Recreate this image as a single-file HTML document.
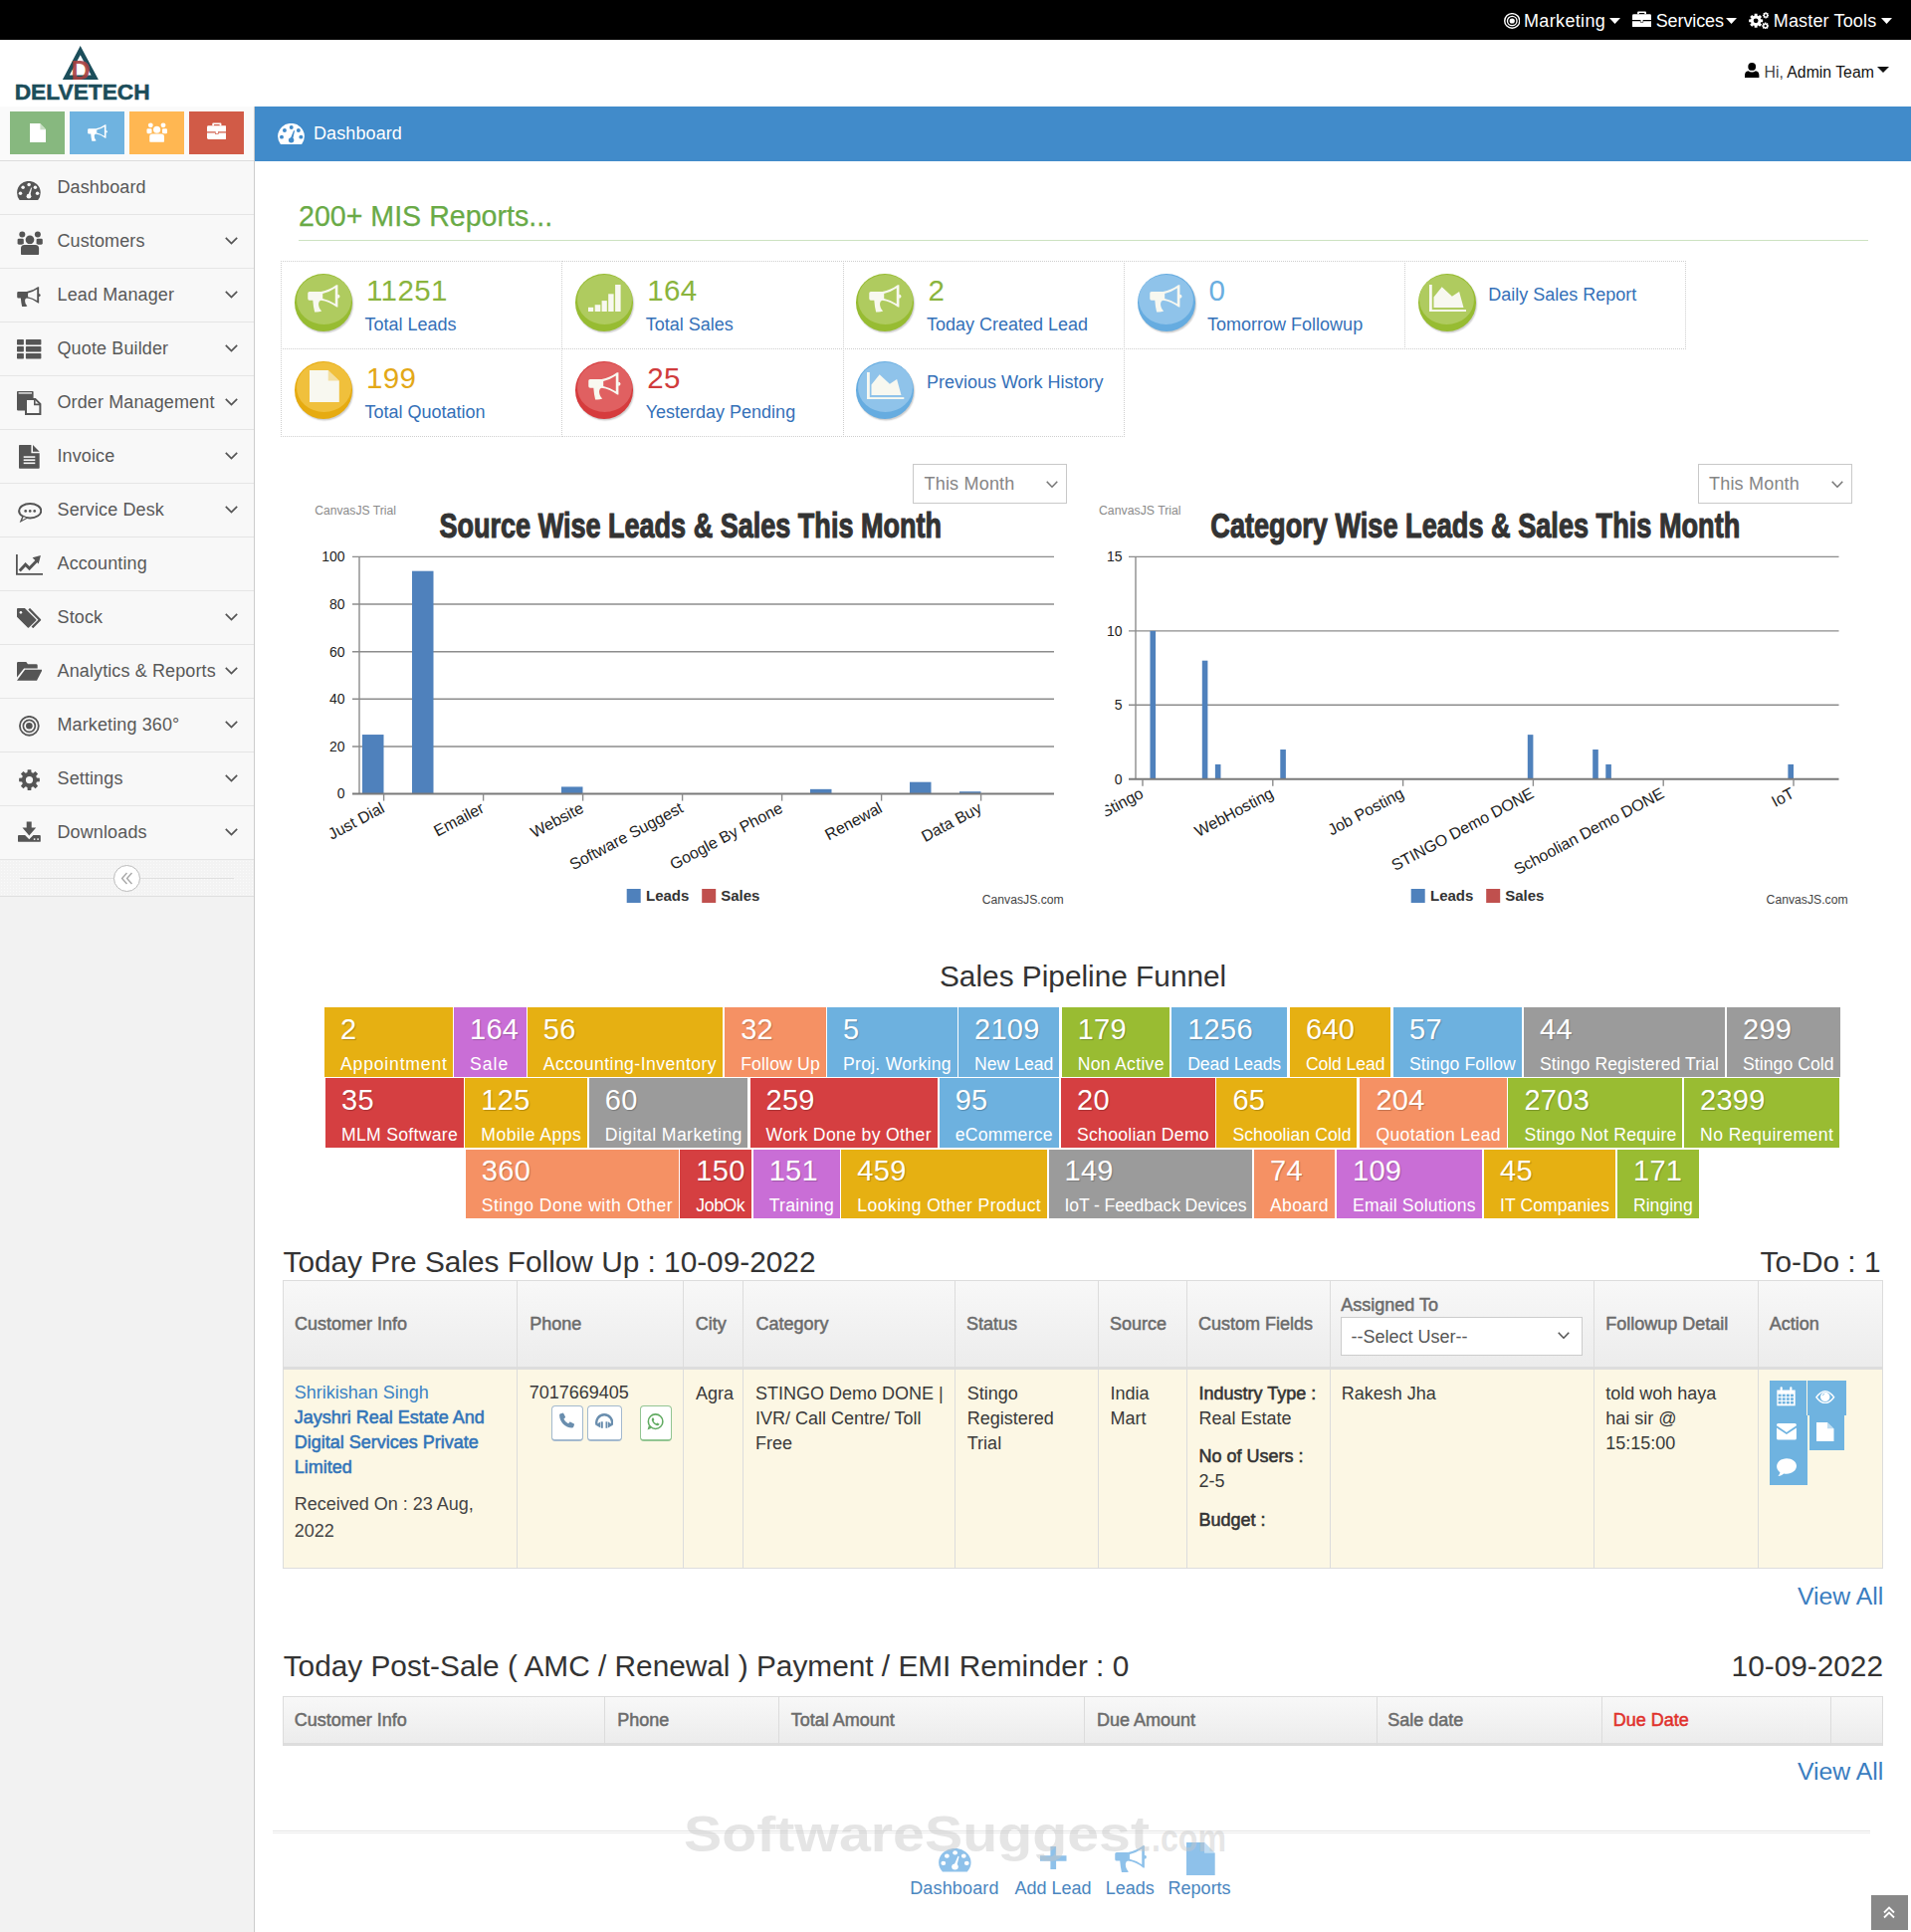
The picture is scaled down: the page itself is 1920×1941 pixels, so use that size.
<!DOCTYPE html><html><head><meta charset="utf-8"><title>Dashboard</title><style>
*{margin:0;padding:0;box-sizing:border-box}
html,body{width:1920px;height:1941px;overflow:hidden;background:#fff}
body{position:relative;font-family:"Liberation Sans",Arial,sans-serif;color:#333}
.t{position:absolute;line-height:1;white-space:nowrap}
.r{position:absolute;display:block}
.tile{position:absolute;height:69.6px;color:#fff;overflow:hidden}
.tile .n{position:absolute;left:16px;top:7.8px;font-size:29px;line-height:1;letter-spacing:0.3px;text-shadow:1px 1px 1px rgba(0,0,0,.22)}
.tile .l{position:absolute;left:16px;top:48.6px;font-size:17.6px;line-height:1;white-space:nowrap}
.sb{-webkit-text-stroke:0.45px currentColor}
</style></head><body><div class="r" style="left:0px;top:0px;width:1920px;height:40px;background:#000"></div>
<svg class="r" style="left:1510.50px;top:12.70px" width="16.50" height="15.90" viewBox="0 0 20.7 20.6" preserveAspectRatio="none" fill="#fff"><circle cx="10.35" cy="10.3" r="9.45" fill="none" stroke="#fff" stroke-width="1.8"/><circle cx="10.35" cy="10.3" r="6" fill="none" stroke="#fff" stroke-width="1.7"/><circle cx="10.35" cy="10.3" r="3.3"/></svg>
<div class="t" style="left:1531px;top:11.56px;font-size:18px;color:#fff;letter-spacing:0.35px">Marketing</div>
<svg class="r" style="left:1617px;top:17.6px" width="11" height="6" viewBox="0 0 11 6"><path d="M0 0H11L5.5 6z" fill="#fff"/></svg>
<svg class="r" style="left:1640.20px;top:10.80px" width="19.10" height="16.50" viewBox="0 0 19 17" preserveAspectRatio="none" fill="#fff"><path d="M6 0.4H13Q13.9 0.4 13.9 1.3V3.3H12.2V2H6.8V3.3H5.1V1.3Q5.1 0.4 6 0.4Z"/><path d="M0 4.7Q0 3.3 1.4 3.3H17.6Q19 3.3 19 4.7V9.2H0Z"/><path d="M0 10.5H7.9V11.9H11.1V10.5H19V15.6Q19 17 17.6 17H1.4Q0 17 0 15.6Z"/><rect x="8.4" y="8.7" width="2.2" height="2.6"/></svg>
<div class="t" style="left:1663.7px;top:11.56px;font-size:18px;color:#fff;letter-spacing:-0.1px">Services</div>
<svg class="r" style="left:1734px;top:17.6px" width="11" height="6" viewBox="0 0 11 6"><path d="M0 0H11L5.5 6z" fill="#fff"/></svg>
<svg class="r" style="left:1757.30px;top:11.70px" width="20.10" height="17.60" viewBox="0 0 20 17.6" preserveAspectRatio="none" fill="#fff"><path fill-rule="evenodd" d="M5.56 3.83 L5.69 1.84 L8.51 1.84 L8.64 3.83 L9.53 4.20 L11.02 2.88 L13.02 4.88 L11.70 6.37 L12.07 7.26 L14.06 7.39 L14.06 10.21 L12.07 10.34 L11.70 11.23 L13.02 12.72 L11.02 14.72 L9.53 13.40 L8.64 13.77 L8.51 15.76 L5.69 15.76 L5.56 13.77 L4.67 13.40 L3.18 14.72 L1.18 12.72 L2.50 11.23 L2.13 10.34 L0.14 10.21 L0.14 7.39 L2.13 7.26 L2.50 6.37 L1.18 4.88 L3.18 2.88 L4.67 4.20Z M9.5 8.8A2.4 2.4 0 1 0 4.7 8.8A2.4 2.4 0 1 0 9.5 8.8Z"/><path fill-rule="evenodd" d="M16.25 1.22 L16.30 0.28 L17.70 0.28 L17.75 1.22 L18.01 1.33 L18.71 0.70 L19.70 1.69 L19.07 2.39 L19.18 2.65 L20.12 2.70 L20.12 4.10 L19.18 4.15 L19.07 4.41 L19.70 5.11 L18.71 6.10 L18.01 5.47 L17.75 5.58 L17.70 6.52 L16.30 6.52 L16.25 5.58 L15.99 5.47 L15.29 6.10 L14.30 5.11 L14.93 4.41 L14.82 4.15 L13.88 4.10 L13.88 2.70 L14.82 2.65 L14.93 2.39 L14.30 1.69 L15.29 0.70 L15.99 1.33Z M18.1 3.4A1.1 1.1 0 1 0 15.9 3.4A1.1 1.1 0 1 0 18.1 3.4Z"/><path fill-rule="evenodd" d="M15.79 11.63 L15.84 10.58 L17.36 10.58 L17.41 11.63 L17.70 11.75 L18.48 11.04 L19.56 12.12 L18.85 12.90 L18.97 13.19 L20.02 13.24 L20.02 14.76 L18.97 14.81 L18.85 15.10 L19.56 15.88 L18.48 16.96 L17.70 16.25 L17.41 16.37 L17.36 17.42 L15.84 17.42 L15.79 16.37 L15.50 16.25 L14.72 16.96 L13.64 15.88 L14.35 15.10 L14.23 14.81 L13.18 14.76 L13.18 13.24 L14.23 13.19 L14.35 12.90 L13.64 12.12 L14.72 11.04 L15.50 11.75Z M17.8 14A1.2 1.2 0 1 0 15.4 14A1.2 1.2 0 1 0 17.8 14Z"/></svg>
<div class="t" style="left:1781.8px;top:11.56px;font-size:18px;color:#fff;letter-spacing:0.15px">Master Tools</div>
<svg class="r" style="left:1890px;top:17.6px" width="11" height="6" viewBox="0 0 11 6"><path d="M0 0H11L5.5 6z" fill="#fff"/></svg>
<svg class="r" style="left:1753.40px;top:63.00px" width="14.40" height="15.00" viewBox="0 0 14.4 15" preserveAspectRatio="none" fill="#000"><circle cx="7.2" cy="3.9" r="3.9"/><path d="M0 15V12.6Q0 8.7 3.5 8.2Q5.2 9.5 7.2 9.5Q9.2 9.5 10.9 8.2Q14.4 8.7 14.4 12.6V15Z"/></svg>
<div class="t" style="left:1772.5px;top:64.62px;font-size:15.8px;color:#111;"><span style="color:#444">Hi,</span> Admin Team</div>
<svg class="r" style="left:1886px;top:66.5px" width="12" height="6" viewBox="0 0 12 6"><path d="M0 0H12L6.0 6z" fill="#111"/></svg>
<svg class="r" style="left:0;top:40px" width="170" height="67" viewBox="0 40 170 67">
<path d="M80.7 46L62.9 80H98.9Z M80.7 55.2L69.8 75.6H91.6Z" fill="#1c4e5b" fill-rule="evenodd"/>
<text x="81" y="80" text-anchor="middle" font-family="Liberation Sans" font-weight="700" font-size="27" fill="#a8403f" fill-opacity="0.92">D</text>
<text x="14.7" y="99.9" font-family="Liberation Sans" font-weight="700" font-size="22.4" fill="#1b4d5a" stroke="#1b4d5a" stroke-width="0.5" textLength="136" lengthAdjust="spacingAndGlyphs">DELVETECH</text>
</svg>
<div class="r" style="left:0px;top:107px;width:255px;height:1834px;background:#f2f2f2"></div>
<div class="r" style="left:255px;top:107px;width:1px;height:1834px;background:#ccc"></div>
<div class="r" style="left:0px;top:107px;width:255px;height:54px;background:#fafafa"></div>
<div class="r" style="left:0px;top:161px;width:255px;height:1px;background:#ddd"></div>
<div class="r" style="left:10px;top:112px;width:55px;height:43px;background:#87b87f"></div>
<div class="r" style="left:70px;top:112px;width:55px;height:43px;background:#6fb3e0"></div>
<div class="r" style="left:130px;top:112px;width:55px;height:43px;background:#ffb752"></div>
<div class="r" style="left:190px;top:112px;width:55px;height:43px;background:#d15b47"></div>
<svg class="r" style="left:29.50px;top:123.70px" width="16.50" height="19.30" viewBox="0 0 17 19.5" preserveAspectRatio="none" fill="#fff"><path d="M0 0H10.7L17 6.3V19.5H0Z"/><path d="M10.7 0V6.3H17Z" fill="#87b87f" opacity="0.45"/></svg>
<svg class="r" style="left:87.80px;top:125.00px" width="20.40" height="17.00" viewBox="0 0 24 20.4" preserveAspectRatio="none" fill="#fff"><path d="M0.2 6.3Q0.2 5.1 1.4 5.1H10.1V11.5H9.6Q8.1 11.9 7.9 13.9Q7.9 17.4 10.2 19.5Q7.6 20.5 5.1 20.1Q4.1 15.9 3.8 11.5H1.4Q0.2 11.5 0.2 10.3Z"/><path fill-rule="evenodd" d="M9.7 5.1Q15.6 4.1 20.7 0.2H21.8V16.6H20.9Q15.6 12.2 9.7 11.5ZM10.9 6.6Q15.7 5.5 19.9 2.6V14.1Q15.7 11.3 10.9 10.2Z"/><path d="M21.6 7.1A1.7 1.5 0 0 1 21.6 10.1Z"/></svg>
<svg class="r" style="left:146.70px;top:123.30px" width="21.50" height="19.70" viewBox="0 0 26.4 24" preserveAspectRatio="none" fill="#fff"><circle cx="5.3" cy="3.5" r="3"/><circle cx="20.9" cy="3.5" r="3"/><rect x="0.6" y="7.7" width="6.2" height="6" rx="1.4"/><rect x="19.6" y="7.7" width="6.2" height="6" rx="1.4"/><circle cx="13" cy="8.8" r="5.2" fill="#ffb752"/><circle cx="13" cy="8.8" r="4.35"/><path d="M4 23.2V17.6Q4 14.1 7.5 14.1H18.6Q22.1 14.1 22.1 17.6V23.2Q22.1 24 21.2 24H4.9Q4 24 4 23.2Z" stroke="#ffb752" stroke-width="1.5" paint-order="stroke"/></svg>
<svg class="r" style="left:207.50px;top:123.30px" width="19.70" height="17.00" viewBox="0 0 19 17" preserveAspectRatio="none" fill="#fff"><path d="M6 0.4H13Q13.9 0.4 13.9 1.3V3.3H12.2V2H6.8V3.3H5.1V1.3Q5.1 0.4 6 0.4Z"/><path d="M0 4.7Q0 3.3 1.4 3.3H17.6Q19 3.3 19 4.7V9.2H0Z"/><path d="M0 10.5H7.9V11.9H11.1V10.5H19V15.6Q19 17 17.6 17H1.4Q0 17 0 15.6Z"/><rect x="8.4" y="8.7" width="2.2" height="2.6"/></svg>
<div class="r" style="left:0px;top:162px;width:255px;height:53px;background:#f8f8f8"></div>
<div class="r" style="left:0px;top:215px;width:255px;height:1px;background:#e5e5e5"></div>
<svg class="r" style="left:17.40px;top:181.60px" width="24.40" height="19.40" viewBox="0 0 24.4 19.4" preserveAspectRatio="none" fill="#555"><path d="M2.87 19.3A11.8 11.8 0 1 1 20.93 19.3Z"/><g fill="#f8f8f8"><circle cx="12.1" cy="3.6" r="1.75"/><circle cx="6.1" cy="6.3" r="1.75"/><circle cx="18.4" cy="6.3" r="1.75"/><circle cx="3.5" cy="12.3" r="1.75"/><circle cx="20.6" cy="12.3" r="1.75"/><circle cx="12" cy="15.2" r="2.4"/><path d="M10.9 14.7L14.2 6.4L15 6.7L13.2 15.2Z"/></g></svg>
<div class="t" style="left:57.5px;top:178.76px;font-size:18px;color:#585858;letter-spacing:0.12px">Dashboard</div>
<div class="r" style="left:0px;top:216px;width:255px;height:53px;background:#f8f8f8"></div>
<div class="r" style="left:0px;top:269px;width:255px;height:1px;background:#e5e5e5"></div>
<svg class="r" style="left:16.50px;top:232.00px" width="26.40" height="24.00" viewBox="0 0 26.4 24" preserveAspectRatio="none" fill="#555"><circle cx="5.3" cy="3.5" r="3"/><circle cx="20.9" cy="3.5" r="3"/><rect x="0.6" y="7.7" width="6.2" height="6" rx="1.4"/><rect x="19.6" y="7.7" width="6.2" height="6" rx="1.4"/><circle cx="13" cy="8.8" r="5.2" fill="#f8f8f8"/><circle cx="13" cy="8.8" r="4.35"/><path d="M4 23.2V17.6Q4 14.1 7.5 14.1H18.6Q22.1 14.1 22.1 17.6V23.2Q22.1 24 21.2 24H4.9Q4 24 4 23.2Z" stroke="#f8f8f8" stroke-width="1.5" paint-order="stroke"/></svg>
<div class="t" style="left:57.5px;top:232.76px;font-size:18px;color:#585858;letter-spacing:0.12px">Customers</div>
<svg class="r" style="left:226.00px;top:237.80px" width="13.00" height="8.00" viewBox="0 0 13 8" preserveAspectRatio="none" fill="#555"><path d="M0.8 0.8L6.5 6.6L12.2 0.8" fill="none" stroke="#555" stroke-width="1.7"/></svg>
<div class="r" style="left:0px;top:270px;width:255px;height:53px;background:#f8f8f8"></div>
<div class="r" style="left:0px;top:323px;width:255px;height:1px;background:#e5e5e5"></div>
<svg class="r" style="left:17.40px;top:287.80px" width="24.40" height="20.40" viewBox="0 0 24 20.4" preserveAspectRatio="none" fill="#555"><path d="M0.2 6.3Q0.2 5.1 1.4 5.1H10.1V11.5H9.6Q8.1 11.9 7.9 13.9Q7.9 17.4 10.2 19.5Q7.6 20.5 5.1 20.1Q4.1 15.9 3.8 11.5H1.4Q0.2 11.5 0.2 10.3Z"/><path fill-rule="evenodd" d="M9.7 5.1Q15.6 4.1 20.7 0.2H21.8V16.6H20.9Q15.6 12.2 9.7 11.5ZM10.9 6.6Q15.7 5.5 19.9 2.6V14.1Q15.7 11.3 10.9 10.2Z"/><path d="M21.6 7.1A1.7 1.5 0 0 1 21.6 10.1Z"/></svg>
<div class="t" style="left:57.5px;top:286.76px;font-size:18px;color:#585858;letter-spacing:0.12px">Lead Manager</div>
<svg class="r" style="left:226.00px;top:291.80px" width="13.00" height="8.00" viewBox="0 0 13 8" preserveAspectRatio="none" fill="#555"><path d="M0.8 0.8L6.5 6.6L12.2 0.8" fill="none" stroke="#555" stroke-width="1.7"/></svg>
<div class="r" style="left:0px;top:324px;width:255px;height:53px;background:#f8f8f8"></div>
<div class="r" style="left:0px;top:377px;width:255px;height:1px;background:#e5e5e5"></div>
<svg class="r" style="left:17.40px;top:341.30px" width="24.40" height="19.40" viewBox="0 0 24.4 19.4" preserveAspectRatio="none" fill="#555"><rect x="0" y="0" width="6.9" height="5.4" rx="0.7"/><rect x="8.9" y="0" width="15.5" height="5.4" rx="0.7"/><rect x="0" y="7" width="6.9" height="5.4" rx="0.7"/><rect x="8.9" y="7" width="15.5" height="5.4" rx="0.7"/><rect x="0" y="14" width="6.9" height="5.4" rx="0.7"/><rect x="8.9" y="14" width="15.5" height="5.4" rx="0.7"/></svg>
<div class="t" style="left:57.5px;top:340.76px;font-size:18px;color:#585858;letter-spacing:0.12px">Quote Builder</div>
<svg class="r" style="left:226.00px;top:345.80px" width="13.00" height="8.00" viewBox="0 0 13 8" preserveAspectRatio="none" fill="#555"><path d="M0.8 0.8L6.5 6.6L12.2 0.8" fill="none" stroke="#555" stroke-width="1.7"/></svg>
<div class="r" style="left:0px;top:378px;width:255px;height:53px;background:#f8f8f8"></div>
<div class="r" style="left:0px;top:431px;width:255px;height:1px;background:#e5e5e5"></div>
<svg class="r" style="left:17.40px;top:392.50px" width="24.40" height="24.00" viewBox="0 0 24.4 24" preserveAspectRatio="none" fill="#555"><rect x="0" y="0" width="16.6" height="19.4" rx="0.8"/><rect x="1.6" y="1.3" width="13.4" height="1.3" fill="#f8f8f8"/><path d="M9 7.9H18.4L23.4 12.9V23H9Z" fill="#f8f8f8" stroke="#555" stroke-width="2"/><path d="M17.8 7.6V13.4H23.6" fill="none" stroke="#555" stroke-width="1.6"/></svg>
<div class="t" style="left:57.5px;top:394.76px;font-size:18px;color:#585858;letter-spacing:0.12px">Order Management</div>
<svg class="r" style="left:226.00px;top:399.80px" width="13.00" height="8.00" viewBox="0 0 13 8" preserveAspectRatio="none" fill="#555"><path d="M0.8 0.8L6.5 6.6L12.2 0.8" fill="none" stroke="#555" stroke-width="1.7"/></svg>
<div class="r" style="left:0px;top:432px;width:255px;height:53px;background:#f8f8f8"></div>
<div class="r" style="left:0px;top:485px;width:255px;height:1px;background:#e5e5e5"></div>
<svg class="r" style="left:19.30px;top:447.40px" width="20.70" height="23.70" viewBox="0 0 20.7 23.7" preserveAspectRatio="none" fill="#555"><path d="M0 0.8Q0 0 0.8 0H12.4V8.3H20.7V22.9Q20.7 23.7 19.9 23.7H0.8Q0 23.7 0 22.9Z"/><path d="M14 0L20.7 6.7H14Z"/><g fill="#f8f8f8"><rect x="4.7" y="11.3" width="11.6" height="1.6"/><rect x="4.7" y="14.4" width="11.6" height="1.6"/><rect x="4.7" y="17.5" width="11.6" height="1.6"/></g></svg>
<div class="t" style="left:57.5px;top:448.76px;font-size:18px;color:#585858;letter-spacing:0.12px">Invoice</div>
<svg class="r" style="left:226.00px;top:453.80px" width="13.00" height="8.00" viewBox="0 0 13 8" preserveAspectRatio="none" fill="#555"><path d="M0.8 0.8L6.5 6.6L12.2 0.8" fill="none" stroke="#555" stroke-width="1.7"/></svg>
<div class="r" style="left:0px;top:486px;width:255px;height:53px;background:#f8f8f8"></div>
<div class="r" style="left:0px;top:539px;width:255px;height:1px;background:#e5e5e5"></div>
<svg class="r" style="left:17.50px;top:504.80px" width="24.30" height="20.20" viewBox="0 0 24.3 20.2" preserveAspectRatio="none" fill="#555"><ellipse cx="12.2" cy="8.2" rx="11.1" ry="7.2" fill="none" stroke="#555" stroke-width="2"/><path d="M4.3 13.6L1.6 20.2L10 15.6Z"/><path d="M5.6 14.2L4.3 17.4L8.2 15.3Z" fill="#f8f8f8"/><circle cx="7.7" cy="8.4" r="1.35"/><circle cx="12.2" cy="8.4" r="1.35"/><circle cx="16.7" cy="8.4" r="1.35"/></svg>
<div class="t" style="left:57.5px;top:502.76px;font-size:18px;color:#585858;letter-spacing:0.12px">Service Desk</div>
<svg class="r" style="left:226.00px;top:507.80px" width="13.00" height="8.00" viewBox="0 0 13 8" preserveAspectRatio="none" fill="#555"><path d="M0.8 0.8L6.5 6.6L12.2 0.8" fill="none" stroke="#555" stroke-width="1.7"/></svg>
<div class="r" style="left:0px;top:540px;width:255px;height:53px;background:#f8f8f8"></div>
<div class="r" style="left:0px;top:593px;width:255px;height:1px;background:#e5e5e5"></div>
<svg class="r" style="left:15.90px;top:557.00px" width="27.50" height="20.80" viewBox="0 0 27.5 20.8" preserveAspectRatio="none" fill="#555"><path d="M0.9 0V19.9H27.5" fill="none" stroke="#555" stroke-width="1.8"/><path d="M3.7 16.4L9.6 10.2L13.5 14.1L20.8 6.6" fill="none" stroke="#555" stroke-width="2.9"/><path d="M16.6 3.3L24.9 1.1L22.7 9.4Z"/></svg>
<div class="t" style="left:57.5px;top:556.76px;font-size:18px;color:#585858;letter-spacing:0.12px">Accounting</div>
<div class="r" style="left:0px;top:594px;width:255px;height:53px;background:#f8f8f8"></div>
<div class="r" style="left:0px;top:647px;width:255px;height:1px;background:#e5e5e5"></div>
<svg class="r" style="left:17.30px;top:611.10px" width="24.50" height="20.00" viewBox="0 0 24.5 20.2" preserveAspectRatio="none" fill="#555"><path d="M0 0.9Q0 0 0.9 0H7.9L19.2 11.4Q19.8 12 19.2 12.6L12 19.7Q11.4 20.3 10.8 19.7L0 8.8Z"/><circle cx="3.9" cy="4.4" r="1.3" fill="#f8f8f8"/><path d="M12.2 0.7L23 11.9L15.4 19.6" fill="none" stroke="#555" stroke-width="2.3" stroke-linejoin="round"/></svg>
<div class="t" style="left:57.5px;top:610.76px;font-size:18px;color:#585858;letter-spacing:0.12px">Stock</div>
<svg class="r" style="left:226.00px;top:615.80px" width="13.00" height="8.00" viewBox="0 0 13 8" preserveAspectRatio="none" fill="#555"><path d="M0.8 0.8L6.5 6.6L12.2 0.8" fill="none" stroke="#555" stroke-width="1.7"/></svg>
<div class="r" style="left:0px;top:648px;width:255px;height:53px;background:#f8f8f8"></div>
<div class="r" style="left:0px;top:701px;width:255px;height:1px;background:#e5e5e5"></div>
<svg class="r" style="left:16.50px;top:665.20px" width="25.60" height="18.70" viewBox="0 0 25.6 18.7" preserveAspectRatio="none" fill="#555"><path d="M0 1.2Q0 0 1.2 0H9.3L11 2.3H19.4Q20.7 2.3 20.7 3.6V6.4H7.1L0 15.6Z"/><path d="M8.1 7.8H25.6L20 18.7H0Z"/></svg>
<div class="t" style="left:57.5px;top:664.76px;font-size:18px;color:#585858;letter-spacing:0.12px">Analytics &amp; Reports</div>
<svg class="r" style="left:226.00px;top:669.80px" width="13.00" height="8.00" viewBox="0 0 13 8" preserveAspectRatio="none" fill="#555"><path d="M0.8 0.8L6.5 6.6L12.2 0.8" fill="none" stroke="#555" stroke-width="1.7"/></svg>
<div class="r" style="left:0px;top:702px;width:255px;height:53px;background:#f8f8f8"></div>
<div class="r" style="left:0px;top:755px;width:255px;height:1px;background:#e5e5e5"></div>
<svg class="r" style="left:19.10px;top:719.00px" width="20.70" height="20.60" viewBox="0 0 20.7 20.6" preserveAspectRatio="none" fill="#555"><circle cx="10.35" cy="10.3" r="9.45" fill="none" stroke="#555" stroke-width="1.8"/><circle cx="10.35" cy="10.3" r="6" fill="none" stroke="#555" stroke-width="1.7"/><circle cx="10.35" cy="10.3" r="3.3"/></svg>
<div class="t" style="left:57.5px;top:718.76px;font-size:18px;color:#585858;letter-spacing:0.12px">Marketing 360°</div>
<svg class="r" style="left:226.00px;top:723.80px" width="13.00" height="8.00" viewBox="0 0 13 8" preserveAspectRatio="none" fill="#555"><path d="M0.8 0.8L6.5 6.6L12.2 0.8" fill="none" stroke="#555" stroke-width="1.7"/></svg>
<div class="r" style="left:0px;top:756px;width:255px;height:53px;background:#f8f8f8"></div>
<div class="r" style="left:0px;top:809px;width:255px;height:1px;background:#e5e5e5"></div>
<svg class="r" style="left:19.00px;top:772.90px" width="21.00" height="21.10" viewBox="0 0 21 21" preserveAspectRatio="none" fill="#555"><path fill-rule="evenodd" d="M8.45 3.08 L8.72 0.15 L12.28 0.15 L12.55 3.08 L14.30 3.80 L16.56 1.93 L19.07 4.44 L17.20 6.70 L17.92 8.45 L20.85 8.72 L20.85 12.28 L17.92 12.55 L17.20 14.30 L19.07 16.56 L16.56 19.07 L14.30 17.20 L12.55 17.92 L12.28 20.85 L8.72 20.85 L8.45 17.92 L6.70 17.20 L4.44 19.07 L1.93 16.56 L3.80 14.30 L3.08 12.55 L0.15 12.28 L0.15 8.72 L3.08 8.45 L3.80 6.70 L1.93 4.44 L4.44 1.93 L6.70 3.80Z M14.1 10.5A3.6 3.6 0 1 0 6.9 10.5A3.6 3.6 0 1 0 14.1 10.5Z"/></svg>
<div class="t" style="left:57.5px;top:772.76px;font-size:18px;color:#585858;letter-spacing:0.12px">Settings</div>
<svg class="r" style="left:226.00px;top:777.80px" width="13.00" height="8.00" viewBox="0 0 13 8" preserveAspectRatio="none" fill="#555"><path d="M0.8 0.8L6.5 6.6L12.2 0.8" fill="none" stroke="#555" stroke-width="1.7"/></svg>
<div class="r" style="left:0px;top:810px;width:255px;height:53px;background:#f8f8f8"></div>
<div class="r" style="left:0px;top:863px;width:255px;height:1px;background:#e5e5e5"></div>
<svg class="r" style="left:18.30px;top:825.00px" width="22.80" height="20.80" viewBox="0 0 22.8 20.8" preserveAspectRatio="none" fill="#555"><path d="M8.7 0.4H13.7V6.6H18.2L11.3 14.6L4.5 6.6H8.7Z"/><path d="M0 15Q0 14.1 0.9 14.1H7.1L11.3 18.2L15.5 14.1H21.9Q22.8 14.1 22.8 15V19.9Q22.8 20.8 21.9 20.8H0.9Q0 20.8 0 19.9Z"/><circle cx="16.6" cy="18.1" r="0.95" fill="#f8f8f8"/><circle cx="20.1" cy="18.1" r="0.95" fill="#f8f8f8"/></svg>
<div class="t" style="left:57.5px;top:826.76px;font-size:18px;color:#585858;letter-spacing:0.12px">Downloads</div>
<svg class="r" style="left:226.00px;top:831.80px" width="13.00" height="8.00" viewBox="0 0 13 8" preserveAspectRatio="none" fill="#555"><path d="M0.8 0.8L6.5 6.6L12.2 0.8" fill="none" stroke="#555" stroke-width="1.7"/></svg>
<div class="r" style="left:0px;top:864px;width:255px;height:36px;background:#f3f3f3;background-image:radial-gradient(#fafafa 0.8px,transparent 1px);background-size:3px 3px"></div>
<div class="r" style="left:0px;top:900px;width:255px;height:1px;background:#e0e0e0"></div>
<div class="r" style="left:20px;top:882px;width:215px;height:1px;background:#e0e0e0"></div>
<div class="r" style="left:114px;top:869px;width:27px;height:27px;border-radius:50%;background:#fff;border:1px solid #bbb"></div>
<svg class="r" style="left:120px;top:875px" width="16" height="15" viewBox="0 0 16 15"><path d="M7.5 2L2.6 7.5L7.5 13M12.5 2L7.6 7.5L12.5 13" fill="none" stroke="#a9a9a9" stroke-width="1.4"/></svg>
<div class="r" style="left:256px;top:107px;width:1664px;height:55px;background:#418bca"></div>
<svg class="r" style="left:279.30px;top:123.50px" width="27.70" height="21.50" viewBox="0 0 24.4 19.4" preserveAspectRatio="none" fill="#fff"><path d="M2.87 19.3A11.8 11.8 0 1 1 20.93 19.3Z"/><g fill="#418bca"><circle cx="12.1" cy="3.6" r="1.75"/><circle cx="6.1" cy="6.3" r="1.75"/><circle cx="18.4" cy="6.3" r="1.75"/><circle cx="3.5" cy="12.3" r="1.75"/><circle cx="20.6" cy="12.3" r="1.75"/><circle cx="12" cy="15.2" r="2.4"/><path d="M10.9 14.7L14.2 6.4L15 6.7L13.2 15.2Z"/></g></svg>
<div class="t" style="left:315px;top:124.56px;font-size:18px;color:#fff;letter-spacing:0.1px">Dashboard</div>
<div class="t" style="left:300px;top:203.48px;font-size:28.6px;color:#69aa46;-webkit-text-stroke:0.25px #69aa46">200+ MIS Reports...</div>
<div class="r" style="left:300px;top:241px;width:1577px;height:1px;background:#cce2c1"></div>
<div class="r" style="left:282.2px;top:261.9px;width:283.2px;height:89px;border:1px dotted #cfcfcf"></div>
<div class="r" style="left:296.0px;top:275.0px;width:58px;height:57.5px;border-radius:50%;background:#97bc32;box-shadow:1px 1.5px 1.5px rgba(0,0,0,.2)"></div>
<div class="r" style="left:297.5px;top:275.9px;width:55px;height:49.8px;border-radius:50%;background:#afcb5f"></div>
<svg class="r" style="left:308.50px;top:286.00px" width="33.50" height="27.80" viewBox="0 0 24 20.4" preserveAspectRatio="none" fill="#f8f8f0"><path d="M0.2 6.3Q0.2 5.1 1.4 5.1H10.1V11.5H9.6Q8.1 11.9 7.9 13.9Q7.9 17.4 10.2 19.5Q7.6 20.5 5.1 20.1Q4.1 15.9 3.8 11.5H1.4Q0.2 11.5 0.2 10.3Z"/><path fill-rule="evenodd" d="M9.7 5.1Q15.6 4.1 20.7 0.2H21.8V16.6H20.9Q15.6 12.2 9.7 11.5ZM10.9 6.6Q15.7 5.5 19.9 2.6V14.1Q15.7 11.3 10.9 10.2Z"/><path d="M21.6 7.1A1.7 1.5 0 0 1 21.6 10.1Z"/></svg>
<div class="t" style="left:368.0px;top:277.22px;font-size:29.5px;color:#8ab43e;letter-spacing:0.4px">11251</div>
<div class="t" style="left:366.5px;top:316.56px;font-size:18px;color:#3470b8;">Total Leads</div>
<div class="r" style="left:564.4px;top:261.9px;width:283.2px;height:89px;border:1px dotted #cfcfcf"></div>
<div class="r" style="left:578.2px;top:275.0px;width:58px;height:57.5px;border-radius:50%;background:#97bc32;box-shadow:1px 1.5px 1.5px rgba(0,0,0,.2)"></div>
<div class="r" style="left:579.7px;top:275.9px;width:55px;height:49.8px;border-radius:50%;background:#afcb5f"></div>
<svg class="r" style="left:591.30px;top:285.90px" width="32.60" height="27.30" viewBox="0 0 32.6 27.3" preserveAspectRatio="none" fill="#f8f8f0"><rect x="0" y="22.8" width="5.2" height="4.5"/><rect x="6.7" y="20.2" width="5.6" height="7.1"/><rect x="13.6" y="16.1" width="5.2" height="11.2"/><rect x="20.2" y="9.3" width="5.4" height="18"/><rect x="27.1" y="0" width="5.5" height="27.3"/></svg>
<div class="t" style="left:650.2px;top:277.22px;font-size:29.5px;color:#8ab43e;letter-spacing:0.4px">164</div>
<div class="t" style="left:648.7px;top:316.56px;font-size:18px;color:#3470b8;">Total Sales</div>
<div class="r" style="left:846.6px;top:261.9px;width:283.2px;height:89px;border:1px dotted #cfcfcf"></div>
<div class="r" style="left:860.4px;top:275.0px;width:58px;height:57.5px;border-radius:50%;background:#97bc32;box-shadow:1px 1.5px 1.5px rgba(0,0,0,.2)"></div>
<div class="r" style="left:861.9px;top:275.9px;width:55px;height:49.8px;border-radius:50%;background:#afcb5f"></div>
<svg class="r" style="left:872.90px;top:286.00px" width="33.50" height="27.80" viewBox="0 0 24 20.4" preserveAspectRatio="none" fill="#f8f8f0"><path d="M0.2 6.3Q0.2 5.1 1.4 5.1H10.1V11.5H9.6Q8.1 11.9 7.9 13.9Q7.9 17.4 10.2 19.5Q7.6 20.5 5.1 20.1Q4.1 15.9 3.8 11.5H1.4Q0.2 11.5 0.2 10.3Z"/><path fill-rule="evenodd" d="M9.7 5.1Q15.6 4.1 20.7 0.2H21.8V16.6H20.9Q15.6 12.2 9.7 11.5ZM10.9 6.6Q15.7 5.5 19.9 2.6V14.1Q15.7 11.3 10.9 10.2Z"/><path d="M21.6 7.1A1.7 1.5 0 0 1 21.6 10.1Z"/></svg>
<div class="t" style="left:932.4px;top:277.22px;font-size:29.5px;color:#8ab43e;letter-spacing:0.4px">2</div>
<div class="t" style="left:930.9px;top:316.56px;font-size:18px;color:#3470b8;">Today Created Lead</div>
<div class="r" style="left:1128.8px;top:261.9px;width:283.2px;height:89px;border:1px dotted #cfcfcf"></div>
<div class="r" style="left:1142.6px;top:275.0px;width:58px;height:57.5px;border-radius:50%;background:#66ace0;box-shadow:1px 1.5px 1.5px rgba(0,0,0,.2)"></div>
<div class="r" style="left:1144.1px;top:275.9px;width:55px;height:49.8px;border-radius:50%;background:#8fc3ea"></div>
<svg class="r" style="left:1155.10px;top:286.00px" width="33.50" height="27.80" viewBox="0 0 24 20.4" preserveAspectRatio="none" fill="#f8f8f0"><path d="M0.2 6.3Q0.2 5.1 1.4 5.1H10.1V11.5H9.6Q8.1 11.9 7.9 13.9Q7.9 17.4 10.2 19.5Q7.6 20.5 5.1 20.1Q4.1 15.9 3.8 11.5H1.4Q0.2 11.5 0.2 10.3Z"/><path fill-rule="evenodd" d="M9.7 5.1Q15.6 4.1 20.7 0.2H21.8V16.6H20.9Q15.6 12.2 9.7 11.5ZM10.9 6.6Q15.7 5.5 19.9 2.6V14.1Q15.7 11.3 10.9 10.2Z"/><path d="M21.6 7.1A1.7 1.5 0 0 1 21.6 10.1Z"/></svg>
<div class="t" style="left:1214.6px;top:277.22px;font-size:29.5px;color:#6aaee0;letter-spacing:0.4px">0</div>
<div class="t" style="left:1213.1px;top:316.56px;font-size:18px;color:#3470b8;">Tomorrow Followup</div>
<div class="r" style="left:1411.0px;top:261.9px;width:283.2px;height:89px;border:1px dotted #cfcfcf"></div>
<div class="r" style="left:1424.8px;top:275.0px;width:58px;height:57.5px;border-radius:50%;background:#97bc32;box-shadow:1px 1.5px 1.5px rgba(0,0,0,.2)"></div>
<div class="r" style="left:1426.3px;top:275.9px;width:55px;height:49.8px;border-radius:50%;background:#afcb5f"></div>
<svg class="r" style="left:1435.70px;top:285.80px" width="37.30" height="27.50" viewBox="0 0 37.3 27.5" preserveAspectRatio="none" fill="#f8f8f0"><rect x="0" y="0" width="2.8" height="27.5"/><rect x="0" y="25.1" width="37.3" height="2.4"/><path d="M4.5 12.5L12.7 2.2L22.9 11.8L30.1 7L34.5 23.1H4.5Z"/></svg>
<div class="t" style="left:1495.3px;top:286.56px;font-size:18px;color:#3470b8;">Daily Sales Report</div>
<div class="r" style="left:282.2px;top:349.9px;width:283.2px;height:89px;border:1px dotted #cfcfcf"></div>
<div class="r" style="left:296.0px;top:363.0px;width:58px;height:57.5px;border-radius:50%;background:#e6ab10;box-shadow:1px 1.5px 1.5px rgba(0,0,0,.2)"></div>
<div class="r" style="left:297.5px;top:363.9px;width:55px;height:49.8px;border-radius:50%;background:#f0c03c"></div>
<svg class="r" style="left:310.80px;top:371.50px" width="29.80" height="32.40" viewBox="0 0 17 19.5" preserveAspectRatio="none" fill="#f8f8f0"><path d="M0 0H10.7L17 6.3V19.5H0Z"/><path d="M10.7 0V6.3H17Z" fill="#f0c03c" opacity="0.45"/></svg>
<div class="t" style="left:368.0px;top:365.22px;font-size:29.5px;color:#e3a817;letter-spacing:0.4px">199</div>
<div class="t" style="left:366.5px;top:404.56px;font-size:18px;color:#3470b8;">Total Quotation</div>
<div class="r" style="left:564.4px;top:349.9px;width:283.2px;height:89px;border:1px dotted #cfcfcf"></div>
<div class="r" style="left:578.2px;top:363.0px;width:58px;height:57.5px;border-radius:50%;background:#d63b3d;box-shadow:1px 1.5px 1.5px rgba(0,0,0,.2)"></div>
<div class="r" style="left:579.7px;top:363.9px;width:55px;height:49.8px;border-radius:50%;background:#e06061"></div>
<svg class="r" style="left:590.70px;top:374.00px" width="33.50" height="27.80" viewBox="0 0 24 20.4" preserveAspectRatio="none" fill="#f8f8f0"><path d="M0.2 6.3Q0.2 5.1 1.4 5.1H10.1V11.5H9.6Q8.1 11.9 7.9 13.9Q7.9 17.4 10.2 19.5Q7.6 20.5 5.1 20.1Q4.1 15.9 3.8 11.5H1.4Q0.2 11.5 0.2 10.3Z"/><path fill-rule="evenodd" d="M9.7 5.1Q15.6 4.1 20.7 0.2H21.8V16.6H20.9Q15.6 12.2 9.7 11.5ZM10.9 6.6Q15.7 5.5 19.9 2.6V14.1Q15.7 11.3 10.9 10.2Z"/><path d="M21.6 7.1A1.7 1.5 0 0 1 21.6 10.1Z"/></svg>
<div class="t" style="left:650.2px;top:365.22px;font-size:29.5px;color:#d03b3c;letter-spacing:0.4px">25</div>
<div class="t" style="left:648.7px;top:404.56px;font-size:18px;color:#3470b8;">Yesterday Pending</div>
<div class="r" style="left:846.6px;top:349.9px;width:283.2px;height:89px;border:1px dotted #cfcfcf"></div>
<div class="r" style="left:860.4px;top:363.0px;width:58px;height:57.5px;border-radius:50%;background:#66ace0;box-shadow:1px 1.5px 1.5px rgba(0,0,0,.2)"></div>
<div class="r" style="left:861.9px;top:363.9px;width:55px;height:49.8px;border-radius:50%;background:#8fc3ea"></div>
<svg class="r" style="left:871.30px;top:373.80px" width="37.30" height="27.50" viewBox="0 0 37.3 27.5" preserveAspectRatio="none" fill="#f8f8f0"><rect x="0" y="0" width="2.8" height="27.5"/><rect x="0" y="25.1" width="37.3" height="2.4"/><path d="M4.5 12.5L12.7 2.2L22.9 11.8L30.1 7L34.5 23.1H4.5Z"/></svg>
<div class="t" style="left:930.9px;top:374.56px;font-size:18px;color:#3470b8;">Previous Work History</div>
<svg class="r" style="left:300px;top:455px" width="785" height="470" viewBox="300 455 785 470"><defs><clipPath id="cp300"><rect x="300" y="455" width="785" height="470"/></clipPath></defs><text x="316.3" y="517" font-family="Liberation Sans" font-size="12" fill="#8a8a8a" textLength="81.6" lengthAdjust="spacingAndGlyphs">CanvasJS Trial</text><text x="441.5" y="539.9" font-family="Liberation Sans" font-weight="700" font-size="34.5" fill="#333" stroke="#333" stroke-width="1.1" textLength="504.5" lengthAdjust="spacingAndGlyphs">Source Wise Leads &amp; Sales This Month</text><line x1="354" y1="559.4" x2="1059" y2="559.4" stroke="#8c8c8c" stroke-width="1.4"/><line x1="354" y1="607.0" x2="1059" y2="607.0" stroke="#8c8c8c" stroke-width="1.4"/><line x1="354" y1="654.7" x2="1059" y2="654.7" stroke="#8c8c8c" stroke-width="1.4"/><line x1="354" y1="702.3" x2="1059" y2="702.3" stroke="#8c8c8c" stroke-width="1.4"/><line x1="354" y1="750.0" x2="1059" y2="750.0" stroke="#8c8c8c" stroke-width="1.4"/><text x="346.5" y="564.1999999999999" text-anchor="end" font-family="Liberation Sans" font-size="14" fill="#222">100</text><text x="346.5" y="611.8" text-anchor="end" font-family="Liberation Sans" font-size="14" fill="#222">80</text><text x="346.5" y="659.5" text-anchor="end" font-family="Liberation Sans" font-size="14" fill="#222">60</text><text x="346.5" y="707.0999999999999" text-anchor="end" font-family="Liberation Sans" font-size="14" fill="#222">40</text><text x="346.5" y="754.8" text-anchor="end" font-family="Liberation Sans" font-size="14" fill="#222">20</text><text x="346.5" y="802.4" text-anchor="end" font-family="Liberation Sans" font-size="14" fill="#222">0</text><rect x="364.00" y="738.05" width="21.5" height="59.55" fill="#4f81bc"/><rect x="414.00" y="573.69" width="21.5" height="223.91" fill="#4f81bc"/><rect x="564.00" y="790.45" width="21.5" height="7.15" fill="#4f81bc"/><rect x="814.00" y="792.84" width="21.5" height="4.76" fill="#4f81bc"/><rect x="914.00" y="785.69" width="21.5" height="11.91" fill="#4f81bc"/><rect x="964.00" y="795.22" width="21.5" height="2.38" fill="#4f81bc"/><line x1="361" y1="559.4" x2="361" y2="797.6" stroke="#8c8c8c" stroke-width="1.4"/><line x1="354" y1="797.6" x2="1059" y2="797.6" stroke="#7a7a7a" stroke-width="2"/><line x1="385.6" y1="797.6" x2="385.6" y2="804.6" stroke="#8c8c8c" stroke-width="1.4"/><line x1="485.6" y1="797.6" x2="485.6" y2="804.6" stroke="#8c8c8c" stroke-width="1.4"/><line x1="585.6" y1="797.6" x2="585.6" y2="804.6" stroke="#8c8c8c" stroke-width="1.4"/><line x1="685.6" y1="797.6" x2="685.6" y2="804.6" stroke="#8c8c8c" stroke-width="1.4"/><line x1="785.6" y1="797.6" x2="785.6" y2="804.6" stroke="#8c8c8c" stroke-width="1.4"/><line x1="885.6" y1="797.6" x2="885.6" y2="804.6" stroke="#8c8c8c" stroke-width="1.4"/><line x1="985.6" y1="797.6" x2="985.6" y2="804.6" stroke="#8c8c8c" stroke-width="1.4"/><g clip-path="url(#cp300)"><text transform="translate(382.1,805.1) rotate(-28)" x="0" y="0" dy="11.5" text-anchor="end" font-family="Liberation Sans" font-size="16" fill="#222">Just Dial</text><text transform="translate(482.1,805.1) rotate(-28)" x="0" y="0" dy="11.5" text-anchor="end" font-family="Liberation Sans" font-size="16" fill="#222">Emailer</text><text transform="translate(582.1,805.1) rotate(-28)" x="0" y="0" dy="11.5" text-anchor="end" font-family="Liberation Sans" font-size="16" fill="#222">Website</text><text transform="translate(682.1,805.1) rotate(-28)" x="0" y="0" dy="11.5" text-anchor="end" font-family="Liberation Sans" font-size="16" fill="#222">Software Suggest</text><text transform="translate(782.1,805.1) rotate(-28)" x="0" y="0" dy="11.5" text-anchor="end" font-family="Liberation Sans" font-size="16" fill="#222">Google By Phone</text><text transform="translate(882.1,805.1) rotate(-28)" x="0" y="0" dy="11.5" text-anchor="end" font-family="Liberation Sans" font-size="16" fill="#222">Renewal</text><text transform="translate(982.1,805.1) rotate(-28)" x="0" y="0" dy="11.5" text-anchor="end" font-family="Liberation Sans" font-size="16" fill="#222">Data Buy</text></g><rect x="629.7" y="893" width="14" height="14" fill="#4f81bc"/><text x="649.0" y="904.6" font-family="Liberation Sans" font-weight="700" font-size="15" fill="#333">Leads</text><rect x="705.2" y="893" width="14" height="14" fill="#c0504e"/><text x="724.2" y="904.6" font-family="Liberation Sans" font-weight="700" font-size="15" fill="#333">Sales</text><text x="986.7" y="908" font-family="Liberation Sans" font-size="12" fill="#444" textLength="82" lengthAdjust="spacingAndGlyphs">CanvasJS.com</text></svg>
<div class="r" style="left:917px;top:466px;width:155px;height:40px;border:1px solid #c9c9c9;background:#fff"></div>
<div class="t" style="left:928.5px;top:477.46px;font-size:18px;color:#858585;letter-spacing:0.2px">This Month</div>
<svg class="r" style="left:1051.00px;top:483.00px" width="12.00" height="7.50" viewBox="0 0 13 8" preserveAspectRatio="none" fill="#777"><path d="M0.8 0.8L6.5 6.6L12.2 0.8" fill="none" stroke="#777" stroke-width="1.7"/></svg>
<svg class="r" style="left:1090px;top:455px" width="790" height="470" viewBox="1090 455 790 470"><defs><clipPath id="cp1090"><rect x="1110.5" y="455" width="769.5" height="470"/></clipPath></defs><text x="1104" y="517" font-family="Liberation Sans" font-size="12" fill="#8a8a8a" textLength="82.6" lengthAdjust="spacingAndGlyphs">CanvasJS Trial</text><text x="1216.3" y="539.9" font-family="Liberation Sans" font-weight="700" font-size="34.5" fill="#333" stroke="#333" stroke-width="1.1" textLength="532.0" lengthAdjust="spacingAndGlyphs">Category Wise Leads &amp; Sales This Month</text><line x1="1134" y1="559.4" x2="1847.5" y2="559.4" stroke="#8c8c8c" stroke-width="1.4"/><line x1="1134" y1="633.9" x2="1847.5" y2="633.9" stroke="#8c8c8c" stroke-width="1.4"/><line x1="1134" y1="708.3" x2="1847.5" y2="708.3" stroke="#8c8c8c" stroke-width="1.4"/><text x="1127.5" y="564.1999999999999" text-anchor="end" font-family="Liberation Sans" font-size="14" fill="#222">15</text><text x="1127.5" y="638.6999999999999" text-anchor="end" font-family="Liberation Sans" font-size="14" fill="#222">10</text><text x="1127.5" y="713.0999999999999" text-anchor="end" font-family="Liberation Sans" font-size="14" fill="#222">5</text><text x="1127.5" y="787.5999999999999" text-anchor="end" font-family="Liberation Sans" font-size="14" fill="#222">0</text><rect x="1155.48" y="633.90" width="5.6" height="148.90" fill="#4f81bc"/><rect x="1207.80" y="663.68" width="5.6" height="119.12" fill="#4f81bc"/><rect x="1220.88" y="767.91" width="5.6" height="14.89" fill="#4f81bc"/><rect x="1286.28" y="753.02" width="5.6" height="29.78" fill="#4f81bc"/><rect x="1534.80" y="738.13" width="5.6" height="44.67" fill="#4f81bc"/><rect x="1600.20" y="753.02" width="5.6" height="29.78" fill="#4f81bc"/><rect x="1613.28" y="767.91" width="5.6" height="14.89" fill="#4f81bc"/><rect x="1796.40" y="767.91" width="5.6" height="14.89" fill="#4f81bc"/><line x1="1141" y1="559.4" x2="1141" y2="782.8" stroke="#8c8c8c" stroke-width="1.4"/><line x1="1134" y1="782.8" x2="1847.5" y2="782.8" stroke="#7a7a7a" stroke-width="2"/><line x1="1148.0" y1="782.8" x2="1148.0" y2="789.8" stroke="#8c8c8c" stroke-width="1.4"/><line x1="1278.8" y1="782.8" x2="1278.8" y2="789.8" stroke="#8c8c8c" stroke-width="1.4"/><line x1="1409.6" y1="782.8" x2="1409.6" y2="789.8" stroke="#8c8c8c" stroke-width="1.4"/><line x1="1540.4" y1="782.8" x2="1540.4" y2="789.8" stroke="#8c8c8c" stroke-width="1.4"/><line x1="1671.2" y1="782.8" x2="1671.2" y2="789.8" stroke="#8c8c8c" stroke-width="1.4"/><line x1="1802.0" y1="782.8" x2="1802.0" y2="789.8" stroke="#8c8c8c" stroke-width="1.4"/><g clip-path="url(#cp1090)"><text transform="translate(1144.5,790.3) rotate(-28)" x="0" y="0" dy="11.5" text-anchor="end" font-family="Liberation Sans" font-size="16" fill="#222">Stingo</text><text transform="translate(1275.3,790.3) rotate(-28)" x="0" y="0" dy="11.5" text-anchor="end" font-family="Liberation Sans" font-size="16" fill="#222">WebHosting</text><text transform="translate(1406.1,790.3) rotate(-28)" x="0" y="0" dy="11.5" text-anchor="end" font-family="Liberation Sans" font-size="16" fill="#222">Job Posting</text><text transform="translate(1536.9,790.3) rotate(-28)" x="0" y="0" dy="11.5" text-anchor="end" font-family="Liberation Sans" font-size="16" fill="#222">STINGO Demo DONE</text><text transform="translate(1667.7,790.3) rotate(-28)" x="0" y="0" dy="11.5" text-anchor="end" font-family="Liberation Sans" font-size="16" fill="#222">Schoolian Demo DONE</text><text transform="translate(1798.5,790.3) rotate(-28)" x="0" y="0" dy="11.5" text-anchor="end" font-family="Liberation Sans" font-size="16" fill="#222">IoT</text></g><rect x="1417.7" y="893" width="14" height="14" fill="#4f81bc"/><text x="1437.0" y="904.6" font-family="Liberation Sans" font-weight="700" font-size="15" fill="#333">Leads</text><rect x="1493.2" y="893" width="14" height="14" fill="#c0504e"/><text x="1512.2" y="904.6" font-family="Liberation Sans" font-weight="700" font-size="15" fill="#333">Sales</text><text x="1774.6" y="908" font-family="Liberation Sans" font-size="12" fill="#444" textLength="82" lengthAdjust="spacingAndGlyphs">CanvasJS.com</text></svg>
<div class="r" style="left:1705.5px;top:466px;width:155px;height:40px;border:1px solid #c9c9c9;background:#fff"></div>
<div class="t" style="left:1717.0px;top:477.46px;font-size:18px;color:#858585;letter-spacing:0.2px">This Month</div>
<svg class="r" style="left:1839.50px;top:483.00px" width="12.00" height="7.50" viewBox="0 0 13 8" preserveAspectRatio="none" fill="#777"><path d="M0.8 0.8L6.5 6.6L12.2 0.8" fill="none" stroke="#777" stroke-width="1.7"/></svg>
<div class="t" style="left:944px;top:965.67px;font-size:29.8px;color:#333;">Sales Pipeline Funnel</div>
<div class="tile" style="left:326px;top:1012px;width:128.9px;background:#e6b012"><div class="n">2</div><div class="l" style="letter-spacing:0.81px">Appointment</div></div>
<div class="tile" style="left:456px;top:1012px;width:72.8px;background:#c96ed6"><div class="n">164</div><div class="l" style="letter-spacing:1.00px">Sale</div></div>
<div class="tile" style="left:529.8px;top:1012px;width:195.9px;background:#e6b012"><div class="n">56</div><div class="l" style="letter-spacing:0.45px">Accounting-Inventory</div></div>
<div class="tile" style="left:728.2px;top:1012px;width:101.5px;background:#f59164"><div class="n">32</div><div class="l" style="letter-spacing:0.16px">Follow Up</div></div>
<div class="tile" style="left:831px;top:1012px;width:130.5px;background:#6db1df"><div class="n">5</div><div class="l" style="letter-spacing:0.27px">Proj. Working</div></div>
<div class="tile" style="left:963px;top:1012px;width:101.4px;background:#6db1df"><div class="n">2109</div><div class="l" style="letter-spacing:0.02px">New Lead</div></div>
<div class="tile" style="left:1066.7px;top:1012px;width:108.8px;background:#99bc32"><div class="n">179</div><div class="l" style="letter-spacing:0.30px">Non Active</div></div>
<div class="tile" style="left:1177.2px;top:1012px;width:116.0px;background:#6db1df"><div class="n">1256</div><div class="l" style="letter-spacing:-0.10px">Dead Leads</div></div>
<div class="tile" style="left:1296px;top:1012px;width:101.4px;background:#e6b012"><div class="n">640</div><div class="l" style="letter-spacing:-0.10px">Cold Lead</div></div>
<div class="tile" style="left:1400px;top:1012px;width:128.8px;background:#6db1df"><div class="n">57</div><div class="l" style="letter-spacing:0.10px">Stingo Follow</div></div>
<div class="tile" style="left:1531px;top:1012px;width:202.0px;background:#9b9b9b"><div class="n">44</div><div class="l" style="letter-spacing:0.09px">Stingo Registered Trial</div></div>
<div class="tile" style="left:1735px;top:1012px;width:113.6px;background:#9b9b9b"><div class="n">299</div><div class="l" style="letter-spacing:0.06px">Stingo Cold</div></div>
<div class="tile" style="left:327px;top:1083px;width:138.7px;background:#d53f41"><div class="n">35</div><div class="l" style="letter-spacing:0.30px">MLM Software</div></div>
<div class="tile" style="left:467.3px;top:1083px;width:122.5px;background:#e6b012"><div class="n">125</div><div class="l" style="letter-spacing:0.46px">Mobile Apps</div></div>
<div class="tile" style="left:591.8px;top:1083px;width:159.6px;background:#9b9b9b"><div class="n">60</div><div class="l" style="letter-spacing:0.41px">Digital Marketing</div></div>
<div class="tile" style="left:753.5px;top:1083px;width:188.1px;background:#d53f41"><div class="n">259</div><div class="l" style="letter-spacing:0.35px">Work Done by Other</div></div>
<div class="tile" style="left:943.7px;top:1083px;width:120.0px;background:#6db1df"><div class="n">95</div><div class="l" style="letter-spacing:0.27px">eCommerce</div></div>
<div class="tile" style="left:1066px;top:1083px;width:154.7px;background:#d53f41"><div class="n">20</div><div class="l" style="letter-spacing:0.27px">Schoolian Demo</div></div>
<div class="tile" style="left:1222.4px;top:1083px;width:141.1px;background:#e6b012"><div class="n">65</div><div class="l" style="letter-spacing:0.06px">Schoolian Cold</div></div>
<div class="tile" style="left:1366.4px;top:1083px;width:147.3px;background:#f59164"><div class="n">204</div><div class="l" style="letter-spacing:0.38px">Quotation Lead</div></div>
<div class="tile" style="left:1515.4px;top:1083px;width:175.0px;background:#99bc32"><div class="n">2703</div><div class="l" style="letter-spacing:0.25px">Stingo Not Require</div></div>
<div class="tile" style="left:1692px;top:1083px;width:155.8px;background:#99bc32"><div class="n">2399</div><div class="l" style="letter-spacing:0.44px">No Requirement</div></div>
<div class="tile" style="left:467.8px;top:1154.5px;width:213.8px;background:#f59164"><div class="n">360</div><div class="l" style="letter-spacing:0.47px">Stingo Done with Other</div></div>
<div class="tile" style="left:683.3px;top:1154.5px;width:71.4px;background:#d53f41"><div class="n">150</div><div class="l" style="letter-spacing:-0.37px">JobOk</div></div>
<div class="tile" style="left:756.7px;top:1154.5px;width:87.0px;background:#c96ed6"><div class="n">151</div><div class="l" style="letter-spacing:0.30px">Training</div></div>
<div class="tile" style="left:845.3px;top:1154.5px;width:206.5px;background:#e6b012"><div class="n">459</div><div class="l" style="letter-spacing:0.42px">Looking Other Product</div></div>
<div class="tile" style="left:1053.5px;top:1154.5px;width:204.9px;background:#9b9b9b"><div class="n">149</div><div class="l" style="letter-spacing:-0.12px">IoT - Feedback Devices</div></div>
<div class="tile" style="left:1260px;top:1154.5px;width:80.5px;background:#f59164"><div class="n">74</div><div class="l" style="letter-spacing:0.35px">Aboard</div></div>
<div class="tile" style="left:1343px;top:1154.5px;width:145.6px;background:#c96ed6"><div class="n">109</div><div class="l" style="letter-spacing:0.16px">Email Solutions</div></div>
<div class="tile" style="left:1491px;top:1154.5px;width:132.0px;background:#e6b012"><div class="n">45</div><div class="l" style="letter-spacing:0.07px">IT Companies</div></div>
<div class="tile" style="left:1625px;top:1154.5px;width:81.7px;background:#99bc32"><div class="n">171</div><div class="l" style="letter-spacing:0.00px">Ringing</div></div>
<div class="t" style="left:284.5px;top:1253.37px;font-size:29.8px;color:#333;">Today Pre Sales Follow Up : 10-09-2022</div>
<div class="t" style="right:30.5px;top:1253.47px;font-size:29.8px;color:#333;">To-Do : 1</div>
<div class="r" style="left:283.5px;top:1285.5px;width:1608.5px;height:87.5px;background:linear-gradient(to bottom,#f8f8f8 0,#ececec 100%)"></div>
<div class="r" style="left:283.5px;top:1373px;width:1608.5px;height:202.5px;background:#fcf7e4"></div>
<div class="r" style="left:283.5px;top:1285.5px;width:1608.5px;height:1px;background:#ddd"></div>
<div class="r" style="left:283.5px;top:1373px;width:1608.5px;height:2.5px;background:#ddd"></div>
<div class="r" style="left:283.5px;top:1574.5px;width:1608.5px;height:1px;background:#ddd"></div>
<div class="r" style="left:283.5px;top:1285.5px;width:1.2px;height:290.0px;background:#dcdcdc"></div>
<div class="r" style="left:519.1px;top:1285.5px;width:1.2px;height:290.0px;background:#dcdcdc"></div>
<div class="r" style="left:686.1999999999999px;top:1285.5px;width:1.2px;height:290.0px;background:#dcdcdc"></div>
<div class="r" style="left:746.1px;top:1285.5px;width:1.2px;height:290.0px;background:#dcdcdc"></div>
<div class="r" style="left:959.1px;top:1285.5px;width:1.2px;height:290.0px;background:#dcdcdc"></div>
<div class="r" style="left:1102.7px;top:1285.5px;width:1.2px;height:290.0px;background:#dcdcdc"></div>
<div class="r" style="left:1191.7px;top:1285.5px;width:1.2px;height:290.0px;background:#dcdcdc"></div>
<div class="r" style="left:1335.6000000000001px;top:1285.5px;width:1.2px;height:290.0px;background:#dcdcdc"></div>
<div class="r" style="left:1600.6000000000001px;top:1285.5px;width:1.2px;height:290.0px;background:#dcdcdc"></div>
<div class="r" style="left:1765.7px;top:1285.5px;width:1.2px;height:290.0px;background:#dcdcdc"></div>
<div class="r" style="left:1890.8px;top:1285.5px;width:1.2px;height:290.0px;background:#dcdcdc"></div>
<div class="t" style="left:296px;top:1321.46px;font-size:18px;color:#6b6b6b;-webkit-text-stroke:0.5px #6b6b6b">Customer Info</div>
<div class="t" style="left:532.2px;top:1321.46px;font-size:18px;color:#6b6b6b;-webkit-text-stroke:0.5px #6b6b6b">Phone</div>
<div class="t" style="left:698.7px;top:1321.46px;font-size:18px;color:#6b6b6b;-webkit-text-stroke:0.5px #6b6b6b">City</div>
<div class="t" style="left:759.4px;top:1321.46px;font-size:18px;color:#6b6b6b;-webkit-text-stroke:0.5px #6b6b6b">Category</div>
<div class="t" style="left:970.9px;top:1321.46px;font-size:18px;color:#6b6b6b;-webkit-text-stroke:0.5px #6b6b6b">Status</div>
<div class="t" style="left:1115px;top:1321.46px;font-size:18px;color:#6b6b6b;-webkit-text-stroke:0.5px #6b6b6b">Source</div>
<div class="t" style="left:1204px;top:1321.46px;font-size:18px;color:#6b6b6b;-webkit-text-stroke:0.5px #6b6b6b">Custom Fields</div>
<div class="t" style="left:1613.2px;top:1321.46px;font-size:18px;color:#6b6b6b;-webkit-text-stroke:0.5px #6b6b6b">Followup Detail</div>
<div class="t" style="left:1777.7px;top:1321.46px;font-size:18px;color:#6b6b6b;-webkit-text-stroke:0.5px #6b6b6b">Action</div>
<div class="t" style="left:1347.2px;top:1301.76px;font-size:18px;color:#6b6b6b;-webkit-text-stroke:0.5px #6b6b6b">Assigned To</div>
<div class="r" style="left:1346.7px;top:1322.5px;width:243px;height:39.5px;border:1px solid #ccc;background:#fff"></div>
<div class="t" style="left:1357.5px;top:1333.76px;font-size:18px;color:#555;">--Select User--</div>
<svg class="r" style="left:1565.00px;top:1337.50px" width="12.00" height="7.50" viewBox="0 0 13 8" preserveAspectRatio="none" fill="#555"><path d="M0.8 0.8L6.5 6.6L12.2 0.8" fill="none" stroke="#555" stroke-width="1.7"/></svg>
<div class="t" style="left:295.7px;top:1390.06px;font-size:18px;color:#3b83c5;">Shrikishan Singh</div>
<div class="t" style="left:295.7px;top:1415.16px;font-size:18px;color:#3174b9;-webkit-text-stroke:0.55px #3174b9">Jayshri Real Estate And</div>
<div class="t" style="left:295.7px;top:1440.16px;font-size:18px;color:#3174b9;-webkit-text-stroke:0.55px #3174b9">Digital Services Private</div>
<div class="t" style="left:295.7px;top:1465.16px;font-size:18px;color:#3174b9;-webkit-text-stroke:0.55px #3174b9">Limited</div>
<div class="t" style="left:295.7px;top:1502.36px;font-size:18px;color:#444;">Received On : 23 Aug,</div>
<div class="t" style="left:295.7px;top:1528.66px;font-size:18px;color:#444;">2022</div>
<div class="t" style="left:531.7px;top:1390.06px;font-size:18px;color:#393939;">7017669405</div>
<div class="r" style="left:554.2px;top:1412px;width:31.5px;height:35.5px;border:1px solid #a3b9ce;border-bottom-width:2.5px;border-radius:4px;background:#fff"></div>
<svg class="r" style="left:560.10px;top:1418.40px" width="18.65" height="18.65" viewBox="0 0 24 24" preserveAspectRatio="none" fill="#6a8eae"><path d="M6.6 2.2c.6-.3 1.3 0 1.6.6l2 4c.3.6.1 1.3-.4 1.7L8.3 9.7c1.2 2.6 3.3 4.8 6 6l1.2-1.5c.4-.5 1.1-.7 1.7-.4l4 2c.6.3.9 1 .6 1.6l-.9 2.6c-.3.8-1 1.3-1.9 1.3C10.3 21.3 2.7 13.7 2.7 4.9c0-.9.5-1.6 1.3-1.9z"/></svg>
<div class="r" style="left:590.1px;top:1412px;width:34.6px;height:35.5px;border:1px solid #a3b9ce;border-bottom-width:2.5px;border-radius:4px;background:#fff"></div>
<svg class="r" style="left:598.10px;top:1420.00px" width="18.30" height="15.00" viewBox="0 0 18.3 15" preserveAspectRatio="none" fill="#6a8eae"><path d="M1.6 11.5A7.9 7.9 0 1 1 16.7 11.5" fill="none" stroke="#6a8eae" stroke-width="2.4"/><path d="M0.5 11.8L5.4 8.3V14.6Z"/><rect x="6" y="8.3" width="1.8" height="6.5"/><path d="M17.8 11.8L12.9 8.3V14.6Z"/><rect x="10.5" y="8.3" width="1.8" height="6.5"/></svg>
<div class="r" style="left:643.2px;top:1412px;width:31.5px;height:35.5px;border:1px solid #92c592;border-bottom-width:2.5px;border-radius:4px;background:#fff"></div>
<svg class="r" style="left:649.30px;top:1418.90px" width="18.75" height="18.75" viewBox="0 0 24 24" preserveAspectRatio="none" fill="#62ab62"><circle cx="12.3" cy="11.7" r="9.3" fill="none" stroke="#62ab62" stroke-width="2"/><path d="M2 22.3l1.6-5.4 3.6 3.2z"/><path d="M8.3 6.9c.4-.4 1-.3 1.2.1l1 2.1c.2.4 0 .7-.2 1l-.6.7c.8 1.6 2 2.8 3.6 3.6l.7-.6c.3-.3.7-.4 1-.2l2 1c.4.2.5.8.1 1.2-.9 1.1-2.2 1.5-3.6.9-2.8-1.2-4.6-3-5.8-5.8-.5-1.4-.3-2.9.6-4z"/></svg>
<div class="t" style="left:699px;top:1390.76px;font-size:18px;color:#393939;">Agra</div>
<div class="t" style="left:758.9px;top:1390.76px;font-size:18px;color:#393939;">STINGO Demo DONE |</div>
<div class="t" style="left:758.9px;top:1415.76px;font-size:18px;color:#393939;">IVR/ Call Centre/ Toll</div>
<div class="t" style="left:758.9px;top:1440.76px;font-size:18px;color:#393939;">Free</div>
<div class="t" style="left:971.8px;top:1390.76px;font-size:18px;color:#393939;">Stingo</div>
<div class="t" style="left:971.8px;top:1415.76px;font-size:18px;color:#393939;">Registered</div>
<div class="t" style="left:971.8px;top:1440.76px;font-size:18px;color:#393939;">Trial</div>
<div class="t" style="left:1115.5px;top:1390.76px;font-size:18px;color:#393939;">India</div>
<div class="t" style="left:1115.5px;top:1415.76px;font-size:18px;color:#393939;">Mart</div>
<div class="t" style="left:1204.5px;top:1390.76px;font-size:18px;color:#333;-webkit-text-stroke:0.55px #333">Industry Type :</div>
<div class="t" style="left:1204.5px;top:1415.76px;font-size:18px;color:#393939;">Real Estate</div>
<div class="t" style="left:1204.5px;top:1454.46px;font-size:18px;color:#333;-webkit-text-stroke:0.55px #333">No of Users :</div>
<div class="t" style="left:1204.5px;top:1479.16px;font-size:18px;color:#393939;">2-5</div>
<div class="t" style="left:1204.5px;top:1518.46px;font-size:18px;color:#333;-webkit-text-stroke:0.55px #333">Budget :</div>
<div class="t" style="left:1347.7px;top:1390.76px;font-size:18px;color:#393939;">Rakesh Jha</div>
<div class="t" style="left:1613.2px;top:1390.76px;font-size:18px;color:#393939;">told woh haya</div>
<div class="t" style="left:1613.2px;top:1415.76px;font-size:18px;color:#393939;">hai sir @</div>
<div class="t" style="left:1613.2px;top:1440.76px;font-size:18px;color:#393939;">15:15:00</div>
<div class="r" style="left:1777.9px;top:1387px;width:37.1px;height:34.9px;background:#6fb3e0"></div>
<div class="r" style="left:1777.9px;top:1421.9px;width:38.1px;height:69.9px;background:#6fb3e0"></div>
<div class="r" style="left:1816.2px;top:1387px;width:38.8px;height:34.9px;background:#6fb3e0"></div>
<div class="r" style="left:1818px;top:1421.9px;width:34.8px;height:34.9px;background:#6fb3e0"></div>
<svg class="r" style="left:1784.30px;top:1392.40px" width="21.00" height="21.70" viewBox="0 0 24 24" preserveAspectRatio="none" fill="#fff"><path d="M1.5 5h21v17.5h-21z"/><g fill="#6fb3e0"><rect x="3" y="9.6" width="3.4" height="2.8"/><rect x="7.7" y="9.6" width="3.4" height="2.8"/><rect x="12.4" y="9.6" width="3.4" height="2.8"/><rect x="17.1" y="9.6" width="3.4" height="2.8"/><rect x="3" y="13.6" width="3.4" height="2.8"/><rect x="7.7" y="13.6" width="3.4" height="2.8"/><rect x="12.4" y="13.6" width="3.4" height="2.8"/><rect x="17.1" y="13.6" width="3.4" height="2.8"/><rect x="3" y="17.6" width="3.4" height="2.8"/><rect x="7.7" y="17.6" width="3.4" height="2.8"/><rect x="12.4" y="17.6" width="3.4" height="2.8"/><rect x="17.1" y="17.6" width="3.4" height="2.8"/></g><rect x="5.3" y="1.5" width="2.4" height="5.5" rx="1"/><rect x="16.3" y="1.5" width="2.4" height="5.5" rx="1"/></svg>
<svg class="r" style="left:1824.00px;top:1397.00px" width="19.50" height="13.30" viewBox="0 0 19.5 13.3" preserveAspectRatio="none" fill="#fff"><path fill-rule="evenodd" d="M0 6.65Q4.9 0 9.75 0Q14.6 0 19.5 6.65Q14.6 13.3 9.75 13.3Q4.9 13.3 0 6.65ZM1.8 6.65Q5.8 1.5 9.75 1.5Q13.7 1.5 17.7 6.65Q13.7 11.8 9.75 11.8Q5.8 11.8 1.8 6.65Z"/><circle cx="9.75" cy="6.4" r="4.7"/><path d="M7.3 5.2Q7.6 3.6 9.2 3.2" fill="none" stroke="#6fb3e0" stroke-width="0.7"/></svg>
<svg class="r" style="left:1785.40px;top:1430.30px" width="19.90" height="16.50" viewBox="0 0 19.9 16.5" preserveAspectRatio="none" fill="#fff"><path d="M1.6 0H18.3Q19.9 0 19.9 1.6V2.3L9.95 8.9L0 2.3V1.6Q0 0 1.6 0Z"/><path d="M0 4.6L9.95 11.1L19.9 4.6V14.9Q19.9 16.5 18.3 16.5H1.6Q0 16.5 0 14.9Z"/></svg>
<svg class="r" style="left:1825.00px;top:1428.70px" width="17.50" height="19.30" viewBox="0 0 17 19.5" preserveAspectRatio="none" fill="#fff"><path d="M0 0H10.7L17 6.3V19.5H0Z"/><path d="M10.7 0V6.3H17Z" fill="#6fb3e0" opacity="0.45"/></svg>
<svg class="r" style="left:1784.30px;top:1461.90px" width="22.10" height="22.60" viewBox="0 0 24 24" preserveAspectRatio="none" fill="#fff"><path d="M12 3.5C6 3.5 1.2 7.3 1.2 12c0 2.5 1.4 4.8 3.6 6.3-.3 1.6-1.1 3-2.3 4.1 2.6-.3 4.8-1.3 6.3-2.8 1 .2 2.1.3 3.2.3 6 0 10.8-3.8 10.8-8.4S18 3.5 12 3.5z"/></svg>
<div class="t" style="right:27.700000000000045px;top:1591.60px;font-size:24.8px;color:#3a7dc0;">View All</div>
<div class="t" style="left:284.7px;top:1658.77px;font-size:29.8px;color:#333;">Today Post-Sale ( AMC / Renewal ) Payment / EMI Reminder : 0</div>
<div class="t" style="right:28px;top:1659.07px;font-size:29.8px;color:#333;">10-09-2022</div>
<div class="r" style="left:283.5px;top:1703.6px;width:1608.5px;height:47.200000000000045px;background:linear-gradient(to bottom,#f8f8f8 0,#ececec 100%)"></div>
<div class="r" style="left:283.5px;top:1703.6px;width:1608.5px;height:1px;background:#ddd"></div>
<div class="r" style="left:283.5px;top:1750.8px;width:1608.5px;height:2.8px;background:#ddd"></div>
<div class="r" style="left:283.5px;top:1703.6px;width:1.2px;height:50.0px;background:#dcdcdc"></div>
<div class="r" style="left:607.3px;top:1703.6px;width:1.2px;height:50.0px;background:#dcdcdc"></div>
<div class="r" style="left:781.8px;top:1703.6px;width:1.2px;height:50.0px;background:#dcdcdc"></div>
<div class="r" style="left:1089.1000000000001px;top:1703.6px;width:1.2px;height:50.0px;background:#dcdcdc"></div>
<div class="r" style="left:1382.7px;top:1703.6px;width:1.2px;height:50.0px;background:#dcdcdc"></div>
<div class="r" style="left:1608.6000000000001px;top:1703.6px;width:1.2px;height:50.0px;background:#dcdcdc"></div>
<div class="r" style="left:1838.9px;top:1703.6px;width:1.2px;height:50.0px;background:#dcdcdc"></div>
<div class="r" style="left:1890.8px;top:1703.6px;width:1.2px;height:50.0px;background:#dcdcdc"></div>
<div class="t" style="left:295.8px;top:1719.36px;font-size:18px;color:#6b6b6b;-webkit-text-stroke:0.5px #6b6b6b">Customer Info</div>
<div class="t" style="left:620.2px;top:1719.36px;font-size:18px;color:#6b6b6b;-webkit-text-stroke:0.5px #6b6b6b">Phone</div>
<div class="t" style="left:794.8px;top:1719.36px;font-size:18px;color:#6b6b6b;-webkit-text-stroke:0.5px #6b6b6b">Total Amount</div>
<div class="t" style="left:1102px;top:1719.36px;font-size:18px;color:#6b6b6b;-webkit-text-stroke:0.5px #6b6b6b">Due Amount</div>
<div class="t" style="left:1394.3px;top:1719.36px;font-size:18px;color:#6b6b6b;-webkit-text-stroke:0.5px #6b6b6b">Sale date</div>
<div class="t" style="left:1620.7px;top:1719.36px;font-size:18px;color:#e0302b;-webkit-text-stroke:0.5px #e0302b">Due Date</div>
<div class="t" style="right:27.700000000000045px;top:1768.00px;font-size:24.8px;color:#3a7dc0;">View All</div>
<div class="r" style="left:273.5px;top:1838.5px;width:1605.5px;height:1px;background:#e4e4e4"></div>
<div class="r" style="left:273.5px;top:1841px;width:1605.5px;height:1px;background:#ececec"></div>
<svg class="r" style="left:942.50px;top:1857.00px" width="33.50" height="23.60" viewBox="0 0 24.4 19.4" preserveAspectRatio="none" fill="#8ec1ea"><path d="M2.87 19.3A11.8 11.8 0 1 1 20.93 19.3Z"/><g fill="#fff"><circle cx="12.1" cy="3.6" r="1.75"/><circle cx="6.1" cy="6.3" r="1.75"/><circle cx="18.4" cy="6.3" r="1.75"/><circle cx="3.5" cy="12.3" r="1.75"/><circle cx="20.6" cy="12.3" r="1.75"/><circle cx="12" cy="15.2" r="2.4"/><path d="M10.9 14.7L14.2 6.4L15 6.7L13.2 15.2Z"/></g></svg>
<div class="t" style="left:914.2px;top:1888.36px;font-size:18px;color:#4a86c0;letter-spacing:0.15px">Dashboard</div>
<svg class="r" style="left:1045.00px;top:1854.50px" width="26.50" height="23.90" viewBox="0 0 26.5 24" preserveAspectRatio="none" fill="#8ec1ea"><path d="M10.4 0H16.1V9.3H26.5V14.7H16.1V24H10.4V14.7H0V9.3H10.4Z"/></svg>
<div class="t" style="left:1019.4px;top:1888.36px;font-size:18px;color:#4a86c0;">Add Lead</div>
<svg class="r" style="left:1119.60px;top:1853.50px" width="32.90" height="27.70" viewBox="0 0 24 20.4" preserveAspectRatio="none" fill="#8ec1ea"><path d="M0.2 6.3Q0.2 5.1 1.4 5.1H10.1V11.5H9.6Q8.1 11.9 7.9 13.9Q7.9 17.4 10.2 19.5Q7.6 20.5 5.1 20.1Q4.1 15.9 3.8 11.5H1.4Q0.2 11.5 0.2 10.3Z"/><path fill-rule="evenodd" d="M9.7 5.1Q15.6 4.1 20.7 0.2H21.8V16.6H20.9Q15.6 12.2 9.7 11.5ZM10.9 6.6Q15.7 5.5 19.9 2.6V14.1Q15.7 11.3 10.9 10.2Z"/><path d="M21.6 7.1A1.7 1.5 0 0 1 21.6 10.1Z"/></svg>
<div class="t" style="left:1110.8px;top:1888.36px;font-size:18px;color:#4a86c0;">Leads</div>
<svg class="r" style="left:1192.00px;top:1851.00px" width="28.70" height="33.00" viewBox="0 0 17 19.5" preserveAspectRatio="none" fill="#8ec1ea"><path d="M0 0H10.7L17 6.3V19.5H0Z"/><path d="M10.7 0V6.3H17Z" fill="#fff" opacity="0.45"/></svg>
<div class="t" style="left:1173.6px;top:1888.36px;font-size:18px;color:#4a86c0;">Reports</div>
<svg class="r" style="left:680px;top:1815px" width="560" height="55" viewBox="680 1815 560 55"><g font-family="Liberation Sans" font-weight="700" fill="#c6c6c6" fill-opacity="0.45"><text x="687" y="1860" font-size="50" textLength="468" lengthAdjust="spacingAndGlyphs">SoftwareSuggest</text><text x="1157" y="1860" font-size="38" textLength="75" lengthAdjust="spacingAndGlyphs">.com</text></g></svg>
<div class="r" style="left:1880px;top:1904px;width:36.5px;height:35px;background:#888"></div>
<svg class="r" style="left:1889px;top:1911px" width="18" height="20" viewBox="0 0 18 20"><path d="M4 10.5l5-5 5 5M4 15.5l5-5 5 5" fill="none" stroke="#fff" stroke-width="1.8"/></svg></body></html>
